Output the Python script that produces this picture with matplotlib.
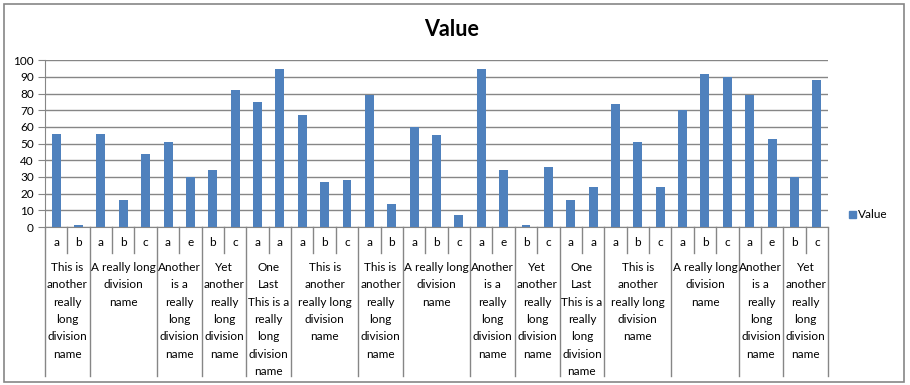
import numpy as np
import matplotlib
matplotlib.use('Agg')
import matplotlib.pyplot as plt
from matplotlib.lines import Line2D
from matplotlib.patches import Rectangle

plt.rcParams['font.family'] = ['Lato', 'DejaVu Sans']

# division names (already wrapped as in the chart) and their sub labels
group_names = [
    "This is\nanother\nreally\nlong\ndivision\nname",
    "A really long\ndivision\nname",
    "Another\nis a\nreally\nlong\ndivision\nname",
    "Yet\nanother\nreally\nlong\ndivision\nname",
    "One\nLast\nThis is a\nreally\nlong\ndivision\nname",
    "This is\nanother\nreally long\ndivision\nname",
    "This is\nanother\nreally\nlong\ndivision\nname",
    "A really long\ndivision\nname",
    "Another\nis a\nreally\nlong\ndivision\nname",
    "Yet\nanother\nreally\nlong\ndivision\nname",
    "One\nLast\nThis is a\nreally\nlong\ndivision\nname",
    "This is\nanother\nreally long\ndivision\nname",
    "A really long\ndivision\nname",
    "Another\nis a\nreally\nlong\ndivision\nname",
    "Yet\nanother\nreally\nlong\ndivision\nname",
]
sub_labels = [
    ['a', 'b'], ['a', 'b', 'c'], ['a', 'e'], ['b', 'c'], ['a', 'a'],
    ['a', 'b', 'c'], ['a', 'b'], ['a', 'b', 'c'], ['a', 'e'], ['b', 'c'],
    ['a', 'a'], ['a', 'b', 'c'], ['a', 'b', 'c'], ['a', 'e'], ['b', 'c'],
]
values = [56, 1, 56, 16, 44, 51, 30, 34, 82, 75, 95, 67, 27, 28, 79, 14,
          60, 55, 7, 95, 34, 1, 36, 16, 24, 74, 51, 24, 70, 92, 90, 79, 53, 30, 88]

W, H = 910, 385
fig = plt.figure(figsize=(W / 100, H / 100), dpi=100)
fig.patch.set_facecolor('white')

# chart border
fig.patches.append(Rectangle((4 / W, 1 - 382 / H), 900 / W, 378 / H, transform=fig.transFigure,
                             fill=False, edgecolor='#868686', lw=1.2))

ax_left, ax_right, ax_top, ax_bot = 45, 828, 60.3, 227
ax = fig.add_axes([ax_left / W, 1 - ax_bot / H, (ax_right - ax_left) / W, (ax_bot - ax_top) / H])

grey = '#868686'
fs = 8.5
x = np.arange(len(values))
ax.bar(x, values, width=0.4, color='#4F81BD', zorder=3)
ax.set_xlim(-0.5, len(values) - 0.5)
ax.set_ylim(0, 100)
ax.set_yticks(range(0, 101, 10))
ax.yaxis.grid(True, color=grey, lw=1)
ax.set_axisbelow(True)
for s in ['top', 'right']:
    ax.spines[s].set_visible(False)
ax.spines['left'].set_color(grey)
ax.spines['bottom'].set_color(grey)
ax.tick_params(axis='y', length=5, color=grey, labelsize=fs, pad=3)
ax.tick_params(axis='x', length=0, labelbottom=False)

ph = ax_bot - ax_top
def yf(py):
    return (ax_bot - py) / ph

tr = ax.get_xaxis_transform()
pos = 0
ax.add_line(Line2D([-0.5, -0.5], [yf(ax_bot), yf(376)], transform=tr, color=grey, lw=1, clip_on=False))
for name, subs in zip(group_names, sub_labels):
    n = len(subs)
    for i, s in enumerate(subs):
        ax.text(pos + i, yf(242), s, transform=tr, ha='center', va='center', fontsize=fs)
        if i < n - 1:
            ax.add_line(Line2D([pos + i + 0.5] * 2, [yf(ax_bot), yf(253)], transform=tr,
                               color=grey, lw=1, clip_on=False))
    ax.text(pos + (n - 1) / 2, yf(262), name, transform=tr, ha='center', va='top',
            fontsize=fs, linespacing=1.7)
    pos += n
    ax.add_line(Line2D([pos - 0.5] * 2, [yf(ax_bot), yf(376)], transform=tr, color=grey, lw=1, clip_on=False))

fig.text(452 / W, 1 - 29 / H, 'Value', ha='center', va='center', fontsize=15.5, fontweight='bold')

fig.patches.append(Rectangle((849 / W, 1 - 218 / H), 7 / W, 7 / H, transform=fig.transFigure,
                             color='#4F81BD'))
fig.text(858 / W, 1 - 214.5 / H, 'Value', ha='left', va='center', fontsize=fs)

fig.savefig('out.png', dpi=100)
